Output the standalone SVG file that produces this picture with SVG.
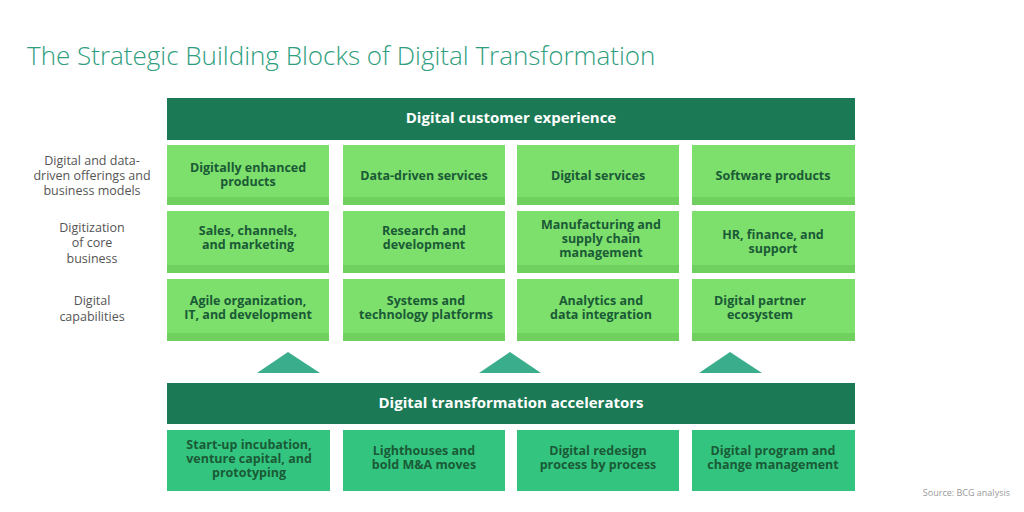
<svg xmlns="http://www.w3.org/2000/svg" width="1024" height="512" viewBox="0 0 1024 512">
<style>
.t{font-family:"Open Sans","Liberation Sans",sans-serif}
.title{font-size:26px;fill:#2f9e7e;font-weight:300}
.hd{fill:#1b7a55}
.hdt{font-size:15px;font-weight:bold;fill:#fff;text-anchor:middle}
.g{fill:#7ddf6c}
.gs{fill:#6fcf5f}
.a{fill:#33c580}
.bt{font-size:12.5px;font-weight:bold;fill:#1a5a36;text-anchor:middle}
.lb{font-size:12.5px;fill:#555;text-anchor:middle}
.tri{fill:#3aae8c}
</style>
<rect width="1024" height="512" fill="#fff"/>
<text class="t title" x="27" y="65">The Strategic Building Blocks of Digital Transformation</text>
<g id="header-top"><rect class="hd" x="167" y="98" width="688" height="42"/><text class="t hdt" x="511" y="123">Digital customer experience</text></g>
<g id="labels">
<text class="t lb" x="92" y="165">Digital and data-</text><text class="t lb" x="92" y="180">driven offerings and</text><text class="t lb" x="92" y="195">business models</text>
<text class="t lb" x="92" y="232">Digitization</text><text class="t lb" x="92" y="247">of core</text><text class="t lb" x="92" y="263">business</text>
<text class="t lb" x="92" y="305">Digital</text><text class="t lb" x="92" y="321">capabilities</text>
</g>
<g id="r1c1"><rect class="g" x="167" y="145" width="162" height="60"/><rect class="gs" x="167" y="197" width="162" height="8"/><text class="t bt" x="248" y="172">Digitally enhanced</text><text class="t bt" x="248" y="186">products</text></g>
<g id="r1c2"><rect class="g" x="343" y="145" width="162" height="60"/><rect class="gs" x="343" y="197" width="162" height="8"/><text class="t bt" x="424" y="180">Data-driven services</text></g>
<g id="r1c3"><rect class="g" x="517" y="145" width="162" height="60"/><rect class="gs" x="517" y="197" width="162" height="8"/><text class="t bt" x="598" y="180">Digital services</text></g>
<g id="r1c4"><rect class="g" x="692" y="145" width="163" height="60"/><rect class="gs" x="692" y="197" width="163" height="8"/><text class="t bt" x="773" y="180">Software products</text></g>
<g id="r2c1"><rect class="g" x="167" y="211" width="162" height="62"/><rect class="gs" x="167" y="265" width="162" height="8"/><text class="t bt" x="248" y="235">Sales, channels,</text><text class="t bt" x="248" y="249">and marketing</text></g>
<g id="r2c2"><rect class="g" x="343" y="211" width="162" height="62"/><rect class="gs" x="343" y="265" width="162" height="8"/><text class="t bt" x="424" y="235">Research and</text><text class="t bt" x="424" y="249">development</text></g>
<g id="r2c3"><rect class="g" x="517" y="211" width="162" height="62"/><rect class="gs" x="517" y="265" width="162" height="8"/><text class="t bt" x="601" y="229">Manufacturing and</text><text class="t bt" x="601" y="243">supply chain</text><text class="t bt" x="601" y="257">management</text></g>
<g id="r2c4"><rect class="g" x="692" y="211" width="163" height="62"/><rect class="gs" x="692" y="265" width="163" height="8"/><text class="t bt" x="773" y="239">HR, finance, and</text><text class="t bt" x="773" y="253">support</text></g>
<g id="r3c1"><rect class="g" x="167" y="279" width="162" height="62"/><rect class="gs" x="167" y="333" width="162" height="8"/><text class="t bt" x="248" y="305">Agile organization,</text><text class="t bt" x="248" y="319">IT, and development</text></g>
<g id="r3c2"><rect class="g" x="343" y="279" width="162" height="62"/><rect class="gs" x="343" y="333" width="162" height="8"/><text class="t bt" x="426" y="305">Systems and</text><text class="t bt" x="426" y="319">technology platforms</text></g>
<g id="r3c3"><rect class="g" x="517" y="279" width="162" height="62"/><rect class="gs" x="517" y="333" width="162" height="8"/><text class="t bt" x="601" y="305">Analytics and</text><text class="t bt" x="601" y="319">data integration</text></g>
<g id="r3c4"><rect class="g" x="692" y="279" width="163" height="62"/><rect class="gs" x="692" y="333" width="163" height="8"/><text class="t bt" x="760" y="305">Digital partner</text><text class="t bt" x="760" y="319">ecosystem</text></g>
<g id="connectors">
<polygon class="tri" points="257,373 288,352 320,373"/>
<polygon class="tri" points="479,373 510,352 541,373"/>
<polygon class="tri" points="699,373 730,352 762,373"/>
</g>
<g id="header-acc"><rect class="hd" x="167" y="383" width="688" height="41"/><text class="t hdt" x="511" y="408">Digital transformation accelerators</text></g>
<g id="a1"><rect class="a" x="167" y="430" width="163" height="61"/><text class="t bt" x="249" y="449">Start-up incubation,</text><text class="t bt" x="249" y="463">venture capital, and</text><text class="t bt" x="249" y="477">prototyping</text></g>
<g id="a2"><rect class="a" x="343" y="430" width="162" height="61"/><text class="t bt" x="424" y="455">Lighthouses and</text><text class="t bt" x="424" y="469">bold M&amp;A moves</text></g>
<g id="a3"><rect class="a" x="517" y="430" width="162" height="61"/><text class="t bt" x="598" y="455">Digital redesign</text><text class="t bt" x="598" y="469">process by process</text></g>
<g id="a4"><rect class="a" x="692" y="430" width="163" height="61"/><text class="t bt" x="773" y="455">Digital program and</text><text class="t bt" x="773" y="469">change management</text></g>
<text class="t" x="1010" y="496" font-size="9" fill="#999" text-anchor="end">Source: BCG analysis</text>
</svg>
